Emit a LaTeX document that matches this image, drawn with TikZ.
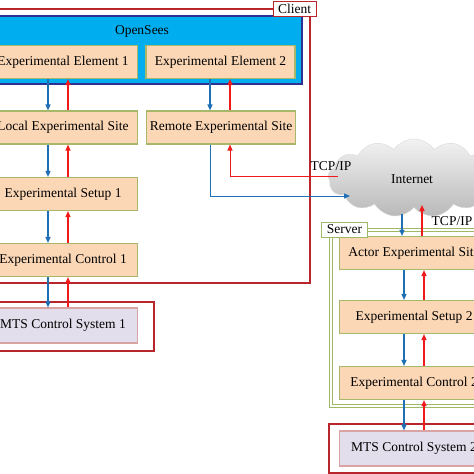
\documentclass[tikz,border=0pt]{standalone}
\usepackage{fontspec}
\setmainfont{Liberation Serif}
\usepackage{tikz}
\usetikzlibrary{arrows.meta, shapes.symbols, positioning}
\definecolor{peach}{HTML}{FBD7B6}
\definecolor{stageline}{HTML}{A7B86A}
\definecolor{osblue}{HTML}{00AEEF}
\definecolor{osline}{HTML}{2E3192}
\definecolor{mtsfill}{HTML}{E2DEEC}
\definecolor{mtsline}{HTML}{D7A3A3}
\definecolor{framered}{HTML}{B8262B}
\definecolor{framegreen}{HTML}{9DB866}
\definecolor{arrblue}{HTML}{1F6FB5}
\definecolor{arrred}{HTML}{F01A1A}

\begin{document}
\begin{tikzpicture}[x=1pt, y=-1pt,
        font=\fontsize{13.5}{16}\selectfont,
        stage/.style={rectangle, draw=stageline, line width=1.1pt, fill=peach, minimum width=149pt, minimum height=33pt, inner sep=0pt},
        mtsbox/.style={rectangle, draw=mtsline, line width=1.1pt, fill=mtsfill, minimum width=149pt, minimum height=35pt, inner sep=0pt},
        tagbox/.style={rectangle, fill=white, line width=1pt, inner xsep=5pt, inner ysep=0pt, minimum height=15pt},
        internet/.style={cloud, cloud puffs=13, cloud puff arc=110, aspect=2.1, minimum width=172pt, minimum height=78pt, draw=gray!30, top color=gray!10, bottom color=gray!55},
        downarrow/.style={-{Triangle[length=6pt,width=5pt]}, arrblue, line width=1.2pt},
        uparrow/.style={-{Triangle[length=6pt,width=5pt]}, arrred, line width=1.2pt}
    ]
        \useasboundingbox (0,0) rectangle (474,474);
        \clip (0,0) rectangle (474,474);

        % client side
        \draw[framered, line width=1.3pt] (-20,9) rectangle (310,283);
        \draw[osline, line width=1.5pt, fill=osblue] (-20,16) rectangle (302,84);
        \node (ostitle) at (142,31) {OpenSees};
        \node[stage] (elem1) at (63,62) {Experimental Element 1};
        \node[stage] (elem2) at (220.5,62) {Experimental Element 2};
        \node[stage] (local) at (63,127.5) {Local Experimental Site};
        \node[stage] (remote) at (221,127.5) {Remote Experimental Site};
        \node[stage] (setup1) at (63,194) {Experimental Setup 1};
        \node[stage] (control1) at (63,260) {Experimental Control 1};
        \draw[framered, line width=1.3pt] (-20,302) rectangle (154,351);
        \node[mtsbox] (mts1) at (63,325.5) {MTS Control System 1};
        \node[tagbox, draw=framered] (client) at (294.5,9) {Client};

        % internet
        \node[internet] (cloud) at (414,178) {};
        \node (inet) at (412,179) {Internet};
        \coordinate (cin) at (350,196);
        \coordinate (cout) at (338,176);
        \coordinate (cdown) at (402,214);
        \coordinate (cup) at (422,205);
        \node (tcp1) at (331,166) {TCP/IP};

        % server side
        \draw[framegreen, line width=0.9pt, double=white, double distance=1.6pt] (331,230) rectangle (500,406);
        \node[stage] (actor) at (414,253) {Actor Experimental Site};
        \node[stage] (setup2) at (414,317) {Experimental Setup 2};
        \node[stage] (control2) at (414,383) {Experimental Control 2};
        \draw[framered, line width=1.3pt] (329,424) rectangle (500,473);
        \node[mtsbox] (mts2) at (414,448.5) {MTS Control System 2};
        \node[tagbox, draw=framegreen] (server) at (344.5,229.5) {Server};
        \node (tcp2) at (452,221) {TCP/IP};

        % data flow
        \draw[downarrow] ([xshift=-15pt]elem1.south) -- ([xshift=-15pt]local.north);
        \draw[uparrow] ([xshift=5pt]local.north) -- ([xshift=5pt]elem1.south);
        \draw[downarrow] ([xshift=-15pt]local.south) -- ([xshift=-15pt]setup1.north);
        \draw[uparrow] ([xshift=5pt]setup1.north) -- ([xshift=5pt]local.south);
        \draw[downarrow] ([xshift=-15pt]setup1.south) -- ([xshift=-15pt]control1.north);
        \draw[uparrow] ([xshift=5pt]control1.north) -- ([xshift=5pt]setup1.south);
        \draw[downarrow] ([xshift=-15pt]control1.south) -- ([xshift=-15pt]mts1.north);
        \draw[uparrow] ([xshift=5pt]mts1.north) -- ([xshift=5pt]control1.south);

        \draw[downarrow] ([xshift=-10.5pt]elem2.south) -- ([xshift=-11pt]remote.north);
        \draw[uparrow] ([xshift=9pt]remote.north) -- ([xshift=9.5pt]elem2.south);
        \draw[downarrow, line width=1pt] ([xshift=-11pt]remote.south) |- (cin);
        \draw[uparrow, line width=1pt] (cout) -| ([xshift=9pt]remote.south);

        \draw[downarrow] (cdown) -- (cdown |- actor.north);
        \draw[uparrow] (cup |- actor.north) -- (cup);
        \draw[downarrow] ([xshift=-10pt]actor.south) -- ([xshift=-10pt]setup2.north);
        \draw[uparrow] ([xshift=10pt]setup2.north) -- ([xshift=10pt]actor.south);
        \draw[downarrow] ([xshift=-10pt]setup2.south) -- ([xshift=-10pt]control2.north);
        \draw[uparrow] ([xshift=10pt]control2.north) -- ([xshift=10pt]setup2.south);
        \draw[downarrow] ([xshift=-10pt]control2.south) -- ([xshift=-10pt]mts2.north);
        \draw[uparrow] ([xshift=10pt]mts2.north) -- ([xshift=10pt]control2.south);
    \end{tikzpicture}
\end{document}
